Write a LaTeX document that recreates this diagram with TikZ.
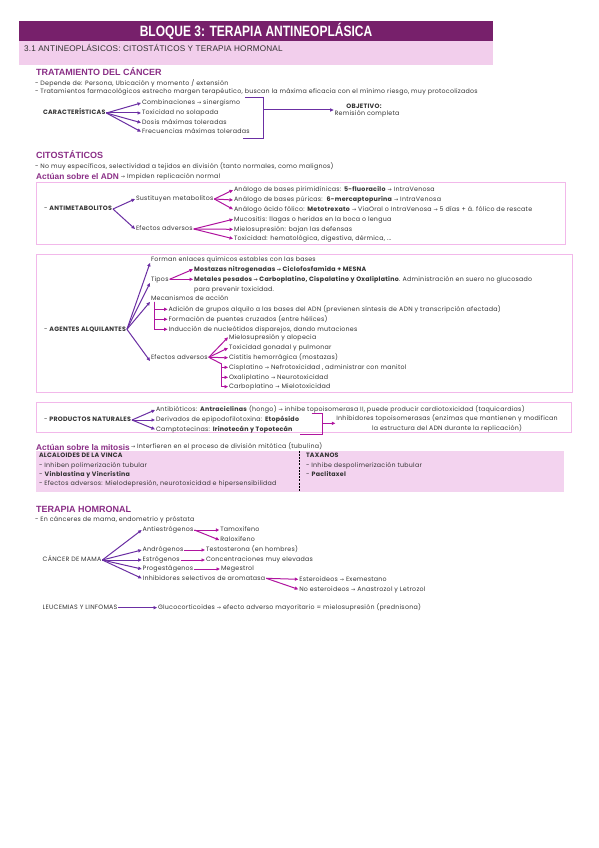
\documentclass[tikz,border=0pt]{standalone}
\usepackage{fontspec}
\usetikzlibrary{arrows.meta,positioning}
\newfontfamily\cuerpo{Poppins}[LetterSpace=4]
\newfontfamily\encab{Liberation Sans}
\newfontfamily\subfont{Liberation Sans}[LetterSpace=2]
\newfontfamily\titular{Liberation Sans}[FakeStretch=0.8]
\newfontfamily\arrfont{DejaVu Sans}
\newcommand\flecha{{\arrfont\fontsize{5}{6}\selectfont →}}
\definecolor{bloque}{HTML}{77206B}
\definecolor{subbar}{HTML}{F2CEEC}
\definecolor{tit}{HTML}{8A2E86}
\definecolor{vio}{HTML}{6B2FA3}
\definecolor{mag}{HTML}{B0159F}
\definecolor{borde}{HTML}{F2B8EA}
\definecolor{caja}{HTML}{F3D3EF}
\definecolor{texto}{HTML}{333333}
\begin{document}
\begin{tikzpicture}[x=1pt,y=-1pt,
  txt/.style={anchor=west,inner sep=0.8pt,text height=4.5pt,text depth=0.8pt,font=\cuerpo\fontsize{6.3}{7}\selectfont,text=texto},
  hd/.style={anchor=west,inner sep=0pt,text height=6.4pt,text depth=0pt,font=\encab\bfseries\fontsize{9}{10}\selectfont,text=tit},
  hdb/.style={anchor=west,inner sep=0pt,text height=6pt,text depth=0pt,font=\encab\bfseries\fontsize{8.3}{9}\selectfont,text=tit},
  fv/.style={-{Triangle[length=3.5pt,width=3.2pt]},vio,line width=1pt},
  fm/.style={-{Triangle[length=3.5pt,width=3.2pt]},mag,line width=1pt}]
\fill[white] (0,0) rectangle (599,848);
\useasboundingbox (0,0) rectangle (599,848);
\fill[bloque] (19,21) rectangle (493,41);
\node[font=\titular\bfseries\fontsize{15}{16}\selectfont,text=white,inner sep=0] (titulo) at (256,31) {BLOQUE 3: TERAPIA ANTINEOPLÁSICA};
\fill[subbar] (19,41) rectangle (493,65);
\node[anchor=west,inner sep=0,text height=5.8pt,text depth=0pt,font=\subfont\fontsize{8.2}{9}\selectfont,text=texto] (subt) at (24,49) {3.1 ANTINEOPLÁSICOS: CITOSTÁTICOS Y TERAPIA HORMONAL};
\node[hd] (trat) at (36,72) {TRATAMIENTO DEL CÁNCER};
\node[txt] (dep) at (34,83.5) {- Depende de: Persona, Ubicación y momento / extensión};
\node[txt] (farm) at (34,92) {- Tratamientos farmacológicos estrecho margen terapéutico, buscan la máxima eficacia con el mínimo riesgo, muy protocolizados};
\node[txt] (car) at (42,113) {\bfseries CARACTERÍSTICAS};
\node[txt] (c1) at (141,103) {Combinaciones \flecha{} sinergismo};
\node[txt] (c2) at (141,113) {Toxicidad no solapada};
\node[txt] (c3) at (141,122.7) {Dosis máximas toleradas};
\node[txt] (c4) at (141,131.7) {Frecuencias máximas toleradas};
\foreach \n in {c1,c2,c3,c4} \draw[fv] (car.east) -- (\n.west);
\draw[vio,line width=1pt] (245,98) -| (263,138) -- (243,138);
\coordinate (brk1) at (263,110);
\node[txt,anchor=center] (obj) at (364,107) {\bfseries OBJETIVO:};
\node[txt,anchor=center] (rem) at (367,114) {Remisión completa};
\draw[fv] (brk1) -- (brk1 -| rem.west);
\node[hd] (cito) at (36,155.5) {CITOSTÁTICOS};
\node[txt] (nomuy) at (34,166.5) {- No muy específicos, selectividad a tejidos en división (tanto normales, como malignos)};
\node[hdb] (adn) at (36,176.5) {Actúan sobre el ADN};
\node[txt,right=1pt of adn] (adn2) {\flecha{} Impiden replicación normal};
\draw[borde,line width=0.8pt] (36,182.5) rectangle (565,244.5);
\node[txt] (anti) at (43,209) {- \bfseries ANTIMETABOLITOS};
\node[txt] (sust) at (135,199) {Sustituyen metabolitos};
\node[txt] (efa) at (135,229) {Efectos adversos};
\draw[fv] (anti.east) -- (sust.west);
\draw[fv] (anti.east) -- (efa.west);
\node[txt] (a1) at (233,190) {Análogo de bases pirimidínicas: \textbf{5-fluoracilo} \flecha{} IntraVenosa};
\node[txt] (a2) at (233,200) {Análogo de bases púricas:\ \ \textbf{6-mercaptopurina} \flecha{} IntraVenosa};
\node[txt] (a3) at (233,209.3) {Análogo ácido fólico: \textbf{Metotrexato} \flecha{} VíaOral o IntraVenosa \flecha{} 5 días + á. fólico de rescate};
\node[txt] (e1) at (233,219.3) {Mucositis: llagas o heridas en la boca o lengua};
\node[txt] (e2) at (233,229.3) {Mielosupresión: bajan las defensas};
\node[txt] (e3) at (233,238.7) {Toxicidad: hematológica, digestiva, dérmica, ...};
\foreach \n in {a1,a2,a3} \draw[fm] (sust.east) -- (\n.west);
\foreach \n in {e1,e2,e3} \draw[fm] (efa.east) -- (\n.west);
\draw[borde,line width=0.8pt] (36,254.7) rectangle (572.7,392.7);
\node[txt] (alq) at (43,329.3) {- \bfseries AGENTES ALQUILANTES};
\node[txt] (forman) at (150,259.3) {Forman enlaces químicos estables con las bases};
\node[txt] (tipos) at (150,279.3) {Tipos};
\node[txt] (meca) at (150,298.3) {Mecanismos de acción};
\node[txt] (efb) at (150,357.3) {Efectos adversos};
\foreach \n in {forman,tipos,meca,efb} \draw[fv] (alq.east) -- (\n.south west);
\node[txt] (mos) at (193,269.3) {\bfseries Mostazas nitrogenadas \flecha{} Ciclofosfamida + MESNA};
\node[txt] (met) at (193,279.3) {\textbf{Metales pesados \flecha{} Carboplatino, Cispalatino y Oxaliplatino}. Administración en suero no glucosado};
\node[txt] (para) at (193,289.3) {para prevenir toxicidad.};
\draw[fm] (tipos.east) -- (mos.west);
\draw[fm] (tipos.east) -- (met.west);
\node[txt] (m1) at (167.5,309.3) {Adición de grupos alquilo a las bases del ADN (previenen síntesis de ADN y transcripción afectada)};
\node[txt] (m2) at (167.5,319.3) {Formación de puentes cruzados (entre hélices)};
\node[txt] (m3) at (167.5,329.3) {Inducción de nucleótidos disparejos, dando mutaciones};
\coordinate (mk) at (154.5,301.7);
\foreach \n in {m1,m2,m3} \draw[fm] (mk) |- (\n.west);
\node[txt] (f1) at (228,337.3) {Mielosupresión y alopecia};
\node[txt] (f2) at (228,348) {Toxicidad gonadal y pulmonar};
\node[txt] (f3) at (228,357.7) {Cistitis hemorrágica (mostazas)};
\node[txt] (g1) at (228,367.3) {Cisplatino \flecha{} Nefrotoxicidad , administrar con manitol};
\node[txt] (g2) at (228,377.3) {Oxaliplatino \flecha{} Neurotoxicidad};
\node[txt] (g3) at (228,386.7) {Carboplatino \flecha{} Mielotoxicidad};
\foreach \n in {f1,f2,f3} \draw[fm] (efb.east) -- (\n.west);
\coordinate (ek) at (221.7,364);
\draw[mag,line width=1pt] (efb.east) -- (ek);
\foreach \n in {g1,g2,g3} \draw[fm] (ek) |- (\n.west);
\draw[borde,line width=0.8pt] (36,402.3) rectangle (571.7,432.3);
\node[txt] (prod) at (43,420) {- \bfseries PRODUCTOS NATURALES};
\node[txt] (p1) at (155,410) {Antibióticos: \textbf{Antraciclinas} (hongo) \flecha{} inhibe topoisomerasa II, puede producir cardiotoxicidad (taquicardias)};
\node[txt] (p2) at (155,420) {Derivados de epipodofilotoxina: \textbf{Etopósido}};
\node[txt] (p3) at (155,429.3) {Camptotecinas: \textbf{Irinotecán y Topotecán}};
\foreach \n in {p1,p2,p3} \draw[fv] (prod.east) -- (\n.west);
\draw[mag,line width=1pt] (311.7,413.3) -| (322.7,434.3) -- (300,434.3);
\coordinate (brk2) at (322.7,423.3);
\node[txt,anchor=center] (top1) at (447,419) {Inhibidores topoisomerasas (enzimas que mantienen y modifican};
\node[txt,anchor=center] (top2) at (447,428.3) {la estructura del ADN durante la replicación)};
\draw[fm] (brk2) -- (brk2 -| top1.west);
\node[hdb] (mit) at (36,447) {Actúan sobre la mitosis};
\node[txt,right=0pt of mit] (mit2) {\flecha{} Interfieren en el proceso de división mitótica (tubulina)};
\fill[caja] (36,450.5) rectangle (564,491.7);
\draw[black,line width=0.8pt,dash pattern=on 2pt off 1.2pt] (299,450.5) -- (299,491.7);
\node[txt] (v0) at (38,456) {\bfseries ALCALOIDES DE LA VINCA};
\node[txt] (v1) at (38,465.3) {- Inhiben polimerización tubular};
\node[txt] (v2) at (38,474.3) {- \textbf{Vinblastina y Vincristina}};
\node[txt] (v3) at (38,483.3) {- Efectos adversos: Mielodepresión, neurotoxicidad e hipersensibilidad};
\node[txt] (x0) at (305,456) {\bfseries TAXANOS};
\node[txt] (x1) at (305,465.3) {- Inhibe despolimerización tubular};
\node[txt] (x2) at (305,474.3) {- \textbf{Paclitaxel}};
\node[hd] (horm) at (36,509) {TERAPIA HOMRONAL};
\node[txt] (encan) at (34,520) {- En cánceres de mama, endometrio y próstata};
\node[txt] (mama) at (41.7,560) {CÁNCER DE MAMA};
\node[txt] (h1) at (141.7,530) {Antiestrógenos};
\node[txt] (h2) at (141.7,550) {Andrógenos};
\node[txt] (h3) at (141.7,560) {Estrógenos};
\node[txt] (h4) at (141.7,569) {Progestágenos};
\node[txt] (h5) at (141.7,578.3) {Inhibidores selectivos de aromatasa};
\foreach \n in {h1,h2,h3,h4,h5} \draw[fv] (mama.east) -- (\n.west);
\node[txt] (tam) at (219.3,530) {Tamoxifeno};
\node[txt] (ral) at (219.3,540) {Raloxifeno};
\draw[fm] (h1.east) -- (tam.west);
\draw[fm] (h1.east) -- (ral.west);
\node[txt] (tes) at (205,550) {Testosterona (en hombres)};
\draw[fm] (h2.east) -- (tes.west);
\node[txt] (con) at (205,560) {Concentraciones muy elevadas};
\draw[fm] (h3.east) -- (con.west);
\node[txt] (meg) at (220,569) {Megestrol};
\draw[fm] (h4.east) -- (meg.west);
\node[txt] (est) at (298.3,579.3) {Esteroideos \flecha{} Exemestano};
\node[txt] (noest) at (298.3,589.3) {No esteroideos \flecha{} Anastrozol y Letrozol};
\draw[fm] (h5.east) -- (est.west);
\draw[fm] (h5.east) -- (noest.west);
\node[txt] (leu) at (41.7,607.7) {LEUCEMIAS Y LINFOMAS};
\node[txt] (glu) at (157,607.7) {Glucocorticoides \flecha{} efecto adverso mayoritario = mielosupresión (prednisona)};
\draw[fv] (leu.east) -- (glu.west);
\end{tikzpicture}
\end{document}
